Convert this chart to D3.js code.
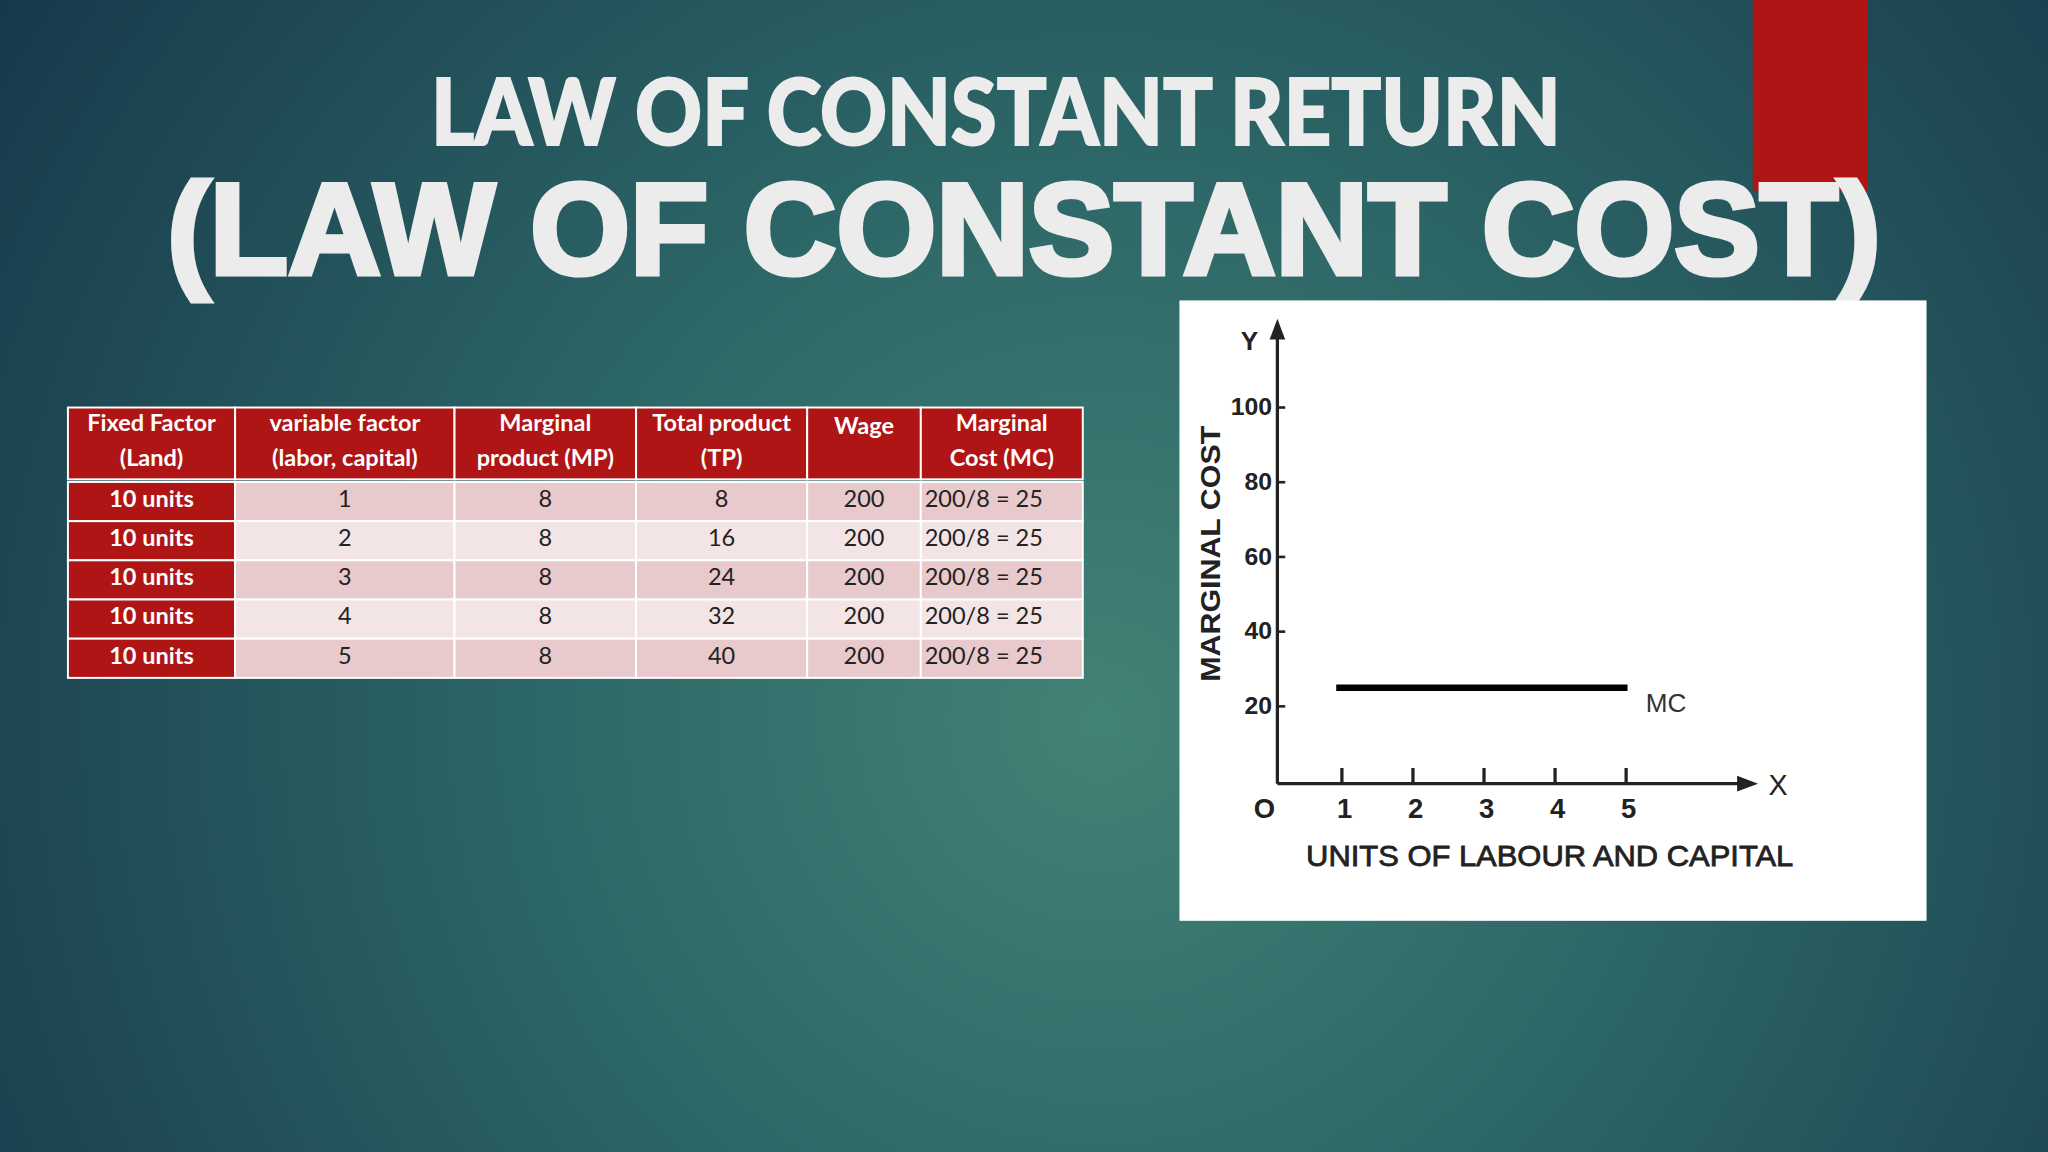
<!DOCTYPE html>
<html><head><meta charset="utf-8">
<script src="https://cdn.jsdelivr.net/npm/d3@7"></script>
<style>html,body{margin:0;padding:0;overflow:hidden;background:#1d4652}</style>
</head><body>
<svg id="c" width="2048" height="1152"></svg>
<script>
const title1 = "LAW OF CONSTANT RETURN";
const title2 = "(LAW OF CONSTANT COST)";
const headers = [["Fixed Factor","(Land)"],["variable factor","(labor, capital)"],["Marginal","product (MP)"],["Total product","(TP)"],["Wage",""],["Marginal","Cost (MC)"]];
const fixedFactor = ["10 units","10 units","10 units","10 units","10 units"];
const variableFactor = [1,2,3,4,5];
const marginalProduct = [8,8,8,8,8];
const totalProduct = [8,16,24,32,40];
const wage = [200,200,200,200,200];
const marginalCost = ["200/8 = 25","200/8 = 25","200/8 = 25","200/8 = 25","200/8 = 25"];
const yTicks = [20,40,60,80,100];
const xTicks = [1,2,3,4,5];
const mcValue = 25;

const svg = d3.select("#c");
const defs = svg.append("defs");
const rg = defs.append("radialGradient").attr("id","bg").attr("gradientUnits","userSpaceOnUse")
  .attr("cx",1100).attr("cy",720).attr("r",1300);
rg.append("stop").attr("offset","0").attr("stop-color","#438276");
rg.append("stop").attr("offset","0.45").attr("stop-color","#2c6566");
rg.append("stop").attr("offset","1").attr("stop-color","#173a4b");
svg.append("rect").attr("width",2048).attr("height",1152).attr("fill","url(#bg)");

const g = svg.append("g").attr("transform","scale(1.30612)");
g.append("rect").attr("x",1342).attr("y",0).attr("width",88).attr("height",146).attr("fill","#b01515");

g.append("text").text(title1).attr("x",330).attr("y",111).attr("textLength",865).attr("lengthAdjust","spacingAndGlyphs")
  .attr("font-family","Lato").attr("font-weight",900).attr("font-size",70).attr("fill","#ececec")
  .attr("stroke","#ececec").attr("stroke-width",1.5);
g.append("text").text(title2).attr("x",128).attr("y",210).attr("textLength",1312).attr("lengthAdjust","spacingAndGlyphs")
  .attr("font-family","Liberation Sans").attr("font-weight",700).attr("font-size",100).attr("fill","#ececec")
  .attr("stroke","#ececec").attr("stroke-width",4);

// table
const colX = [52,180,348,487,618,705,829];
const headTop = 312, headH = 55, rowH = 30;
const rowsData = fixedFactor.map((f,i)=>[f,variableFactor[i],marginalProduct[i],totalProduct[i],wage[i],marginalCost[i]]);
const tg = g.append("g").attr("font-family","Lato").attr("font-size",18);
headers.forEach((h,j)=>{
  tg.append("rect").attr("x",colX[j]).attr("y",headTop).attr("width",colX[j+1]-colX[j]).attr("height",headH)
    .attr("fill","#b01515").attr("stroke","#fff").attr("stroke-width",1.5);
  const cx=(colX[j]+colX[j+1])/2;
  if(h[1]){
    tg.append("text").text(h[0]).attr("x",cx).attr("y",headTop+18).attr("text-anchor","middle").attr("fill","#fff").attr("font-weight",700);
    tg.append("text").text(h[1]).attr("x",cx).attr("y",headTop+45).attr("text-anchor","middle").attr("fill","#fff").attr("font-weight",700);
  } else {
    tg.append("text").text(h[0]).attr("x",cx).attr("y",headTop+20).attr("text-anchor","middle").attr("fill","#fff").attr("font-weight",700);
  }
});
rowsData.forEach((r,i)=>{
  const y = headTop+headH+2+i*rowH;
  r.forEach((v,j)=>{
    const fill = j===0 ? "#b01515" : (i%2===0 ? "#e8c9cc" : "#f3e4e5");
    tg.append("rect").attr("x",colX[j]).attr("y",y).attr("width",colX[j+1]-colX[j]).attr("height",rowH)
      .attr("fill",fill).attr("stroke","#fff").attr("stroke-width",1.5);
    const t = tg.append("text").text(v).attr("y",y+19).attr("fill",j===0?"#fff":"#222").attr("font-weight",j===0?700:400);
    if(j===5) t.attr("x",colX[j]+3); else t.attr("x",(colX[j]+colX[j+1])/2).attr("text-anchor","middle");
  });
});

// chart panel
g.append("rect").attr("x",903).attr("y",230).attr("width",572).attr("height",475).attr("fill","#fff");
const x = d3.scaleLinear().domain([0,5]).range([973,1245]);
const y = d3.scaleLinear().domain([0,100]).range([598,312]);
const cg = g.append("g").attr("fill","#222").attr("font-family","Liberation Sans").attr("font-weight",700);
const ax = 978, ay = 600;
cg.append("line").attr("x1",ax).attr("y1",ay).attr("x2",ax).attr("y2",255).attr("stroke","#222").attr("stroke-width",2.5);
cg.append("path").attr("d",`M${ax-6},${260} L${ax},${244} L${ax+6},${260}Z`);
cg.append("line").attr("x1",ax).attr("y1",ay).attr("x2",1335).attr("y2",ay).attr("stroke","#222").attr("stroke-width",2.5);
cg.append("path").attr("d",`M1330,${ay-6} L1346,${ay} L1330,${ay+6}Z`);
cg.append("text").text("Y").attr("x",950).attr("y",268).attr("font-size",20);
cg.append("text").text("X").attr("x",1354).attr("y",609).attr("font-size",22).attr("font-weight",400);
cg.append("text").text("O").attr("x",968).attr("y",626).attr("text-anchor","middle").attr("font-size",21);
yTicks.forEach(v=>{
  cg.append("line").attr("x1",ax).attr("x2",ax+6).attr("y1",y(v)).attr("y2",y(v)).attr("stroke","#222").attr("stroke-width",2);
  cg.append("text").text(v).attr("x",ax-4).attr("y",y(v)+6).attr("text-anchor","end").attr("font-size",19);
});
xTicks.forEach(v=>{
  cg.append("line").attr("x1",x(v)).attr("x2",x(v)).attr("y1",ay).attr("y2",ay-12).attr("stroke","#222").attr("stroke-width",2.5);
  cg.append("text").text(v).attr("x",x(v)+2).attr("y",626).attr("text-anchor","middle").attr("font-size",21);
});
cg.append("line").attr("x1",x(0.92)).attr("x2",x(5.02)).attr("y1",y(mcValue)).attr("y2",y(mcValue)).attr("stroke","#000").attr("stroke-width",5);
cg.append("text").text("MC").attr("x",1260).attr("y",545).attr("font-size",20).attr("font-weight",400).attr("fill","#333");
cg.append("text").text("UNITS OF LABOUR AND CAPITAL").attr("x",1000).attr("y",663).attr("textLength",373).attr("lengthAdjust","spacingAndGlyphs").attr("font-size",22).attr("font-weight",400).attr("stroke","#222").attr("stroke-width",0.6);
cg.append("text").text("MARGINAL COST").attr("transform","translate(934,424) rotate(-90)").attr("text-anchor","middle").attr("textLength",196).attr("lengthAdjust","spacingAndGlyphs").attr("font-size",21);
</script>
</body></html>
